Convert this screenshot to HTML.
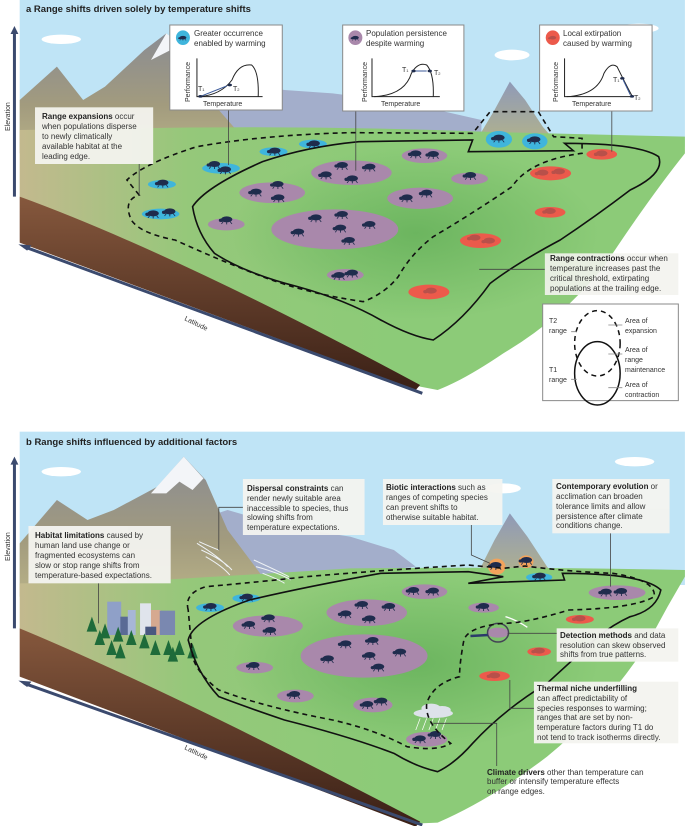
<!DOCTYPE html>
<html><head><meta charset="utf-8"><style>
html,body{margin:0;padding:0;background:#fff}
svg{display:block}
text{font-family:"Liberation Sans",sans-serif;fill:#333}
.t{font-size:8px}
.b{font-weight:bold;fill:#222}
.s{font-size:7px}
.ttl{font-size:9.5px;font-weight:bold;fill:#222}
</style></head><body>
<svg width="685" height="826" viewBox="0 0 685 826" xmlns="http://www.w3.org/2000/svg">
<defs>
<linearGradient id="gr" gradientUnits="userSpaceOnUse" x1="45" y1="0" x2="900" y2="0">
<stop offset="0" stop-color="#c3b98e"/><stop offset="0.45" stop-color="#95c87a"/><stop offset="1" stop-color="#8ccb78"/></linearGradient>
<radialGradient id="gc" cx="0.5" cy="0.5" r="0.5"><stop offset="0" stop-color="#6cb55f"/><stop offset="1" stop-color="#6cb55f" stop-opacity="0"/></radialGradient>
<linearGradient id="br" x1="0" y1="0" x2="0" y2="1"><stop offset="0" stop-color="#86583d"/><stop offset="1" stop-color="#3a2016"/></linearGradient>
<linearGradient id="mt" x1="0" y1="0" x2="0" y2="1"><stop offset="0" stop-color="#8a8c93"/><stop offset="0.6" stop-color="#a29b7e"/><stop offset="1" stop-color="#b8b288"/></linearGradient>
<linearGradient id="mr" x1="0" y1="0" x2="0" y2="1"><stop offset="0" stop-color="#8f9ab8"/><stop offset="1" stop-color="#b4b488"/></linearGradient>
<g id="bt"><ellipse cx="0" cy="0" rx="13" ry="9" fill="#1f2c4d"/><circle cx="-13" cy="3" r="5" fill="#1f2c4d"/><path d="M-8 7 l-4 7 M0 8 l0 7 M8 7 l4 7" stroke="#1f2c4d" stroke-width="2" fill="none"/></g>
<g id="btr"><ellipse cx="0" cy="0" rx="13" ry="9" fill="#b8504a"/><circle cx="-13" cy="3" r="5" fill="#b8504a"/></g>
</defs>

<!-- ================= PANEL A ================= -->
<g transform="scale(0.43764,0.33333)">
<rect x="45" y="0" width="1520" height="440" fill="#bfe4f6"/>
<g fill="#fff"><ellipse cx="140" cy="118" rx="45" ry="14"/><ellipse cx="1170" cy="165" rx="40" ry="16"/><ellipse cx="1460" cy="85" rx="45" ry="14"/></g>
<path d="M200,420 L260,270 L330,230 L430,200 L560,250 L650,270 L760,280 L880,300 L1000,330 L1100,360 L1100,440 Z" fill="#a3aecb"/>
<path d="M45,300 L130,200 L190,300 L240,260 L330,150 L380,100 L440,175 L480,300 L560,420 L45,460 Z" fill="url(#mt)"/>
<path d="M345,180 L380,100 L410,130 L390,150 Z" fill="#f3f5f8"/>
<path d="M1080,440 L1130,330 L1165,245 L1200,300 L1240,380 L1280,440 Z" fill="url(#mr)"/>
<path d="M45,390 L300,385 Q700,375 1100,395 L1565,410 L1565,460 Q1480,600 1380,800 Q1280,960 1150,1060 Q1060,1140 1000,1170 L960,1160 L45,590 Z" fill="url(#gr)"/>
<ellipse cx="950" cy="700" rx="420" ry="260" fill="url(#gc)"/>
<path d="M45,590 Q400,760 960,1155 L950,1170 L45,728 Z" fill="url(#br)"/>
<path d="M33,590 V90" stroke="#3b4a6e" stroke-width="3" vector-effect="non-scaling-stroke"/>
<path d="M33,78 l-9,24 h18 Z" fill="#3b4a6e"/>
<path d="M965,1180 L55,740" stroke="#3b4a6e" stroke-width="3" vector-effect="non-scaling-stroke"/>
<path d="M42,733 l30,3 l-10,16 Z" fill="#3b4a6e"/>
<g fill="#3fb5dc"><ellipse cx="505" cy="505" rx="43" ry="16"/><ellipse cx="625" cy="455" rx="32" ry="13"/><ellipse cx="715" cy="432" rx="32" ry="13"/><ellipse cx="370" cy="553" rx="32" ry="13"/><ellipse cx="367" cy="642" rx="43" ry="16"/><ellipse cx="1140" cy="418" rx="30" ry="25"/><ellipse cx="1222" cy="424" rx="29" ry="24"/></g>
<g fill="#a988ab"><ellipse cx="970" cy="467" rx="52" ry="22"/><ellipse cx="803" cy="518" rx="92" ry="37"/><ellipse cx="622" cy="578" rx="75" ry="31"/><ellipse cx="960" cy="595" rx="75" ry="32"/><ellipse cx="1073" cy="536" rx="42" ry="18"/><ellipse cx="517" cy="673" rx="42" ry="18"/><ellipse cx="765" cy="688" rx="145" ry="60"/><ellipse cx="789" cy="825" rx="42" ry="18"/></g>
<g fill="#ec5a4b"><ellipse cx="1375" cy="463" rx="35" ry="16"/><ellipse cx="1258" cy="520" rx="47" ry="21"/><ellipse cx="1257" cy="637" rx="35" ry="16"/><ellipse cx="1098" cy="722" rx="47" ry="22"/><ellipse cx="980" cy="876" rx="47" ry="22"/></g>
<g>
<use href="#bt" x="490" y="492"/><use href="#bt" x="515" y="508"/><use href="#bt" x="628" y="452"/><use href="#bt" x="718" y="430"/><use href="#bt" x="372" y="548"/><use href="#bt" x="350" y="640"/><use href="#bt" x="388" y="634"/><use href="#bt" x="1140" y="413"/><use href="#bt" x="1222" y="418"/>
<use href="#bt" x="950" y="460"/><use href="#bt" x="990" y="462"/><use href="#bt" x="782" y="495"/><use href="#bt" x="845" y="500"/><use href="#bt" x="745" y="523"/><use href="#bt" x="805" y="535"/>
<use href="#bt" x="635" y="552"/><use href="#bt" x="585" y="575"/><use href="#bt" x="637" y="592"/><use href="#bt" x="930" y="592"/><use href="#bt" x="975" y="578"/><use href="#bt" x="1075" y="525"/><use href="#bt" x="518" y="658"/>
<use href="#bt" x="722" y="652"/><use href="#bt" x="782" y="642"/><use href="#bt" x="778" y="683"/><use href="#bt" x="845" y="672"/><use href="#bt" x="682" y="695"/><use href="#bt" x="798" y="720"/><use href="#bt" x="775" y="825"/><use href="#bt" x="805" y="818"/>
<use href="#btr" x="1375" y="460"/><use href="#btr" x="1240" y="518"/><use href="#btr" x="1278" y="514"/><use href="#btr" x="1257" y="633"/><use href="#btr" x="1085" y="713"/><use href="#btr" x="1118" y="722"/><use href="#btr" x="985" y="872"/>
</g>
<path d="M318,585 L290,540 Q330,490 450,440 Q600,405 800,398 L1080,400 L1120,335 L1230,335 L1265,410 L1330,415 L1330,460 Q1210,480 1170,560 Q1080,640 990,710 Q940,760 910,830 Q880,880 830,905 Q700,880 600,830 Q500,780 400,720 Q320,700 300,660 Q280,600 318,585 Z" fill="none" stroke="#111" stroke-width="1.6" stroke-dasharray="5,4" vector-effect="non-scaling-stroke"/>
<path d="M440,620 Q470,560 600,485 Q700,440 820,425 L1080,420 L1070,455 L1310,452 L1290,430 Q1460,430 1505,470 Q1520,520 1440,570 Q1360,650 1280,720 Q1180,790 1120,850 Q1060,960 990,1020 Q940,1010 870,960 Q790,900 680,860 Q560,820 490,760 Q450,700 440,620 Z" fill="none" stroke="#111" stroke-width="1.6" vector-effect="non-scaling-stroke"/>
<g stroke="#444" stroke-width="0.8" fill="none">
<path d="M522,330 V495" vector-effect="non-scaling-stroke"/><path d="M813,333 V512" vector-effect="non-scaling-stroke"/><path d="M1398,333 V455" vector-effect="non-scaling-stroke"/><path d="M318,492 V585" vector-effect="non-scaling-stroke"/><path d="M1095,808 H1245" vector-effect="non-scaling-stroke"/>
</g>
<g fill="#fff" stroke="#8a8a8a" stroke-width="1">
<rect x="388" y="75" width="257" height="255" vector-effect="non-scaling-stroke"/><rect x="783" y="75" width="277" height="258" vector-effect="non-scaling-stroke"/><rect x="1233" y="75" width="257" height="258" vector-effect="non-scaling-stroke"/>
<rect x="1240" y="912" width="310" height="290" vector-effect="non-scaling-stroke"/>
</g>
<rect x="80" y="322" width="270" height="170" fill="#f3f3ee" opacity="0.95"/>
<rect x="1245" y="760" width="305" height="125" fill="#f3f3ee" opacity="0.9"/>
<ellipse cx="418" cy="113" rx="16" ry="22" fill="#3fb5dc"/><ellipse cx="812" cy="113" rx="16" ry="22" fill="#a988ab"/><ellipse cx="1263" cy="113" rx="16" ry="22" fill="#ec5a4b"/>
<g transform="translate(418,113) scale(0.6)"><use href="#bt"/></g><g transform="translate(812,113) scale(0.6)"><use href="#bt"/></g><g transform="translate(1263,113) scale(0.6)"><use href="#btr"/></g>
<g fill="none" stroke="#222" stroke-width="1">
<path d="M450,175 V290 H600" vector-effect="non-scaling-stroke"/><path d="M455,290 Q505,285 530,240 Q545,190 575,195 Q592,215 590,290" vector-effect="non-scaling-stroke"/>
<path d="M850,175 V290 H1005" vector-effect="non-scaling-stroke"/><path d="M855,290 Q925,285 940,220 Q955,185 975,195 Q992,220 990,290" vector-effect="non-scaling-stroke"/>
<path d="M1290,175 V290 H1445" vector-effect="non-scaling-stroke"/><path d="M1295,290 Q1365,285 1380,220 Q1395,185 1410,200 Q1425,240 1445,290" vector-effect="non-scaling-stroke"/>
</g>
<g stroke="#3b5a9a" stroke-width="1"><path d="M462,287 L518,258" vector-effect="non-scaling-stroke"/><path d="M950,213 H975" vector-effect="non-scaling-stroke"/><path d="M1424,240 L1440,284" vector-effect="non-scaling-stroke"/></g>
<g fill="#1f2c4d"><ellipse cx="458" cy="289" rx="5" ry="4"/><ellipse cx="525" cy="255" rx="5" ry="4"/><ellipse cx="945" cy="213" rx="5" ry="4"/><ellipse cx="982" cy="213" rx="5" ry="4"/><ellipse cx="1422" cy="235" rx="5" ry="4"/><ellipse cx="1444" cy="289" rx="5" ry="4"/></g>
<ellipse cx="1365" cy="1030" rx="52" ry="98" fill="none" stroke="#111" stroke-width="1.5" stroke-dasharray="5,4" vector-effect="non-scaling-stroke"/>
<ellipse cx="1365" cy="1120" rx="52" ry="95" fill="none" stroke="#111" stroke-width="1.5" vector-effect="non-scaling-stroke"/>
<g stroke="#888" stroke-width="0.8"><path d="M1305,995 H1318 M1305,1138 H1318 M1390,975 H1422 M1390,1062 H1422 M1390,1163 H1422" vector-effect="non-scaling-stroke"/></g>
</g>

<text x="26" y="12" class="ttl">a Range shifts driven solely by temperature shifts</text>
<text transform="translate(10,131) rotate(-90)" class="s">Elevation</text>
<text transform="translate(184,320) rotate(26)" class="s">Latitude</text>
<text class="t"><tspan x="194" y="36">Greater occurrence</tspan><tspan x="194" y="46">enabled by warming</tspan></text>
<text class="t"><tspan x="366" y="36">Population persistence</tspan><tspan x="366" y="46">despite  warming</tspan></text>
<text class="t"><tspan x="563" y="36">Local extirpation</tspan><tspan x="563" y="46">caused by warming</tspan></text>
<g class="s"><text transform="translate(190,102) rotate(-90)" class="s">Performance</text><text x="203" y="106" class="s">Temperature</text>
<text transform="translate(367,102) rotate(-90)" class="s">Performance</text><text x="381" y="106" class="s">Temperature</text>
<text transform="translate(558,102) rotate(-90)" class="s">Performance</text><text x="572" y="106" class="s">Temperature</text>
<text x="198" y="91" class="s">T<tspan font-size="4">1</tspan></text><text x="233" y="91" class="s">T<tspan font-size="4">2</tspan></text>
<text x="402" y="72" class="s">T<tspan font-size="4">1</tspan></text><text x="434" y="75" class="s">T<tspan font-size="4">2</tspan></text>
<text x="613" y="82" class="s">T<tspan font-size="4">1</tspan></text><text x="634" y="100" class="s">T<tspan font-size="4">2</tspan></text></g>
<text class="t"><tspan x="42" y="119"><tspan class="b">Range expansions</tspan> occur</tspan><tspan x="42" y="129">when populations disperse</tspan><tspan x="42" y="139">to newly climatically</tspan><tspan x="42" y="149">available habitat at the</tspan><tspan x="42" y="159">leading edge.</tspan></text>
<text class="t"><tspan x="550" y="261"><tspan class="b">Range contractions</tspan> occur when</tspan><tspan x="550" y="271">temperature increases past the</tspan><tspan x="550" y="281">critical threshold, extirpating</tspan><tspan x="550" y="291">populations at the trailing edge.</tspan></text>
<text class="s"><tspan x="549" y="323">T2</tspan><tspan x="549" y="333">range</tspan><tspan x="549" y="372">T1</tspan><tspan x="549" y="382">range</tspan>
<tspan x="625" y="323">Area of</tspan><tspan x="625" y="333">expansion</tspan><tspan x="625" y="352">Area of</tspan><tspan x="625" y="362">range</tspan><tspan x="625" y="372">maintenance</tspan><tspan x="625" y="387">Area of</tspan><tspan x="625" y="397">contraction</tspan></text>

<!-- ================= PANEL B ================= -->
<g transform="translate(0,410) scale(0.43764,0.33333)">
<rect x="45" y="65" width="1520" height="460" fill="#bfe4f6"/>
<g fill="#fff"><ellipse cx="140" cy="185" rx="45" ry="14"/><ellipse cx="1150" cy="235" rx="40" ry="15"/><ellipse cx="1450" cy="155" rx="45" ry="14"/></g>
<path d="M380,520 L450,330 L520,300 L600,330 L700,360 L800,380 L900,420 L950,470 L380,560 Z" fill="#a3aecb"/>
<path d="M45,400 L130,270 L200,330 L260,300 L360,230 L420,140 L470,210 L520,360 L600,500 L45,560 Z" fill="url(#mt)"/>
<path d="M345,250 L420,140 L465,205 L440,240 L410,215 L380,250 Z" fill="#f3f5f8"/>
<path d="M1080,520 L1130,390 L1165,310 L1205,380 L1250,470 L1280,520 Z" fill="url(#mr)"/>
<path d="M45,520 L300,515 Q500,500 800,475 Q1200,470 1565,480 L1565,500 Q1520,600 1480,700 Q1380,900 1250,1040 Q1120,1170 1000,1238 L960,1240 L45,655 Z" fill="url(#gr)"/>
<ellipse cx="950" cy="760" rx="420" ry="260" fill="url(#gc)"/>
<path d="M45,655 Q400,850 960,1235 L950,1250 L45,800 Z" fill="url(#br)"/>
<path d="M33,655 V155" stroke="#3b4a6e" stroke-width="3" vector-effect="non-scaling-stroke"/>
<path d="M33,140 l-9,24 h18 Z" fill="#3b4a6e"/>
<path d="M965,1245 L55,820" stroke="#3b4a6e" stroke-width="3" vector-effect="non-scaling-stroke"/>
<path d="M42,812 l30,3 l-10,16 Z" fill="#3b4a6e"/>
<g fill="none" stroke="#eef2f5" stroke-width="1">
<path d="M450,400 Q500,440 520,470 M460,420 Q510,450 530,480 M470,440 Q510,470 525,495 M455,395 Q480,410 500,420" vector-effect="non-scaling-stroke"/>
<path d="M580,450 Q630,480 660,500 M585,470 Q640,490 665,510 M600,490 Q640,510 650,520" vector-effect="non-scaling-stroke"/>
</g>
<g><rect x="245" y="575" width="32" height="100" fill="#8fa0c8"/><rect x="275" y="620" width="20" height="55" fill="#5a6a95"/><rect x="292" y="600" width="18" height="75" fill="#a7b6d6"/><rect x="320" y="580" width="25" height="95" fill="#e0e4ec"/><rect x="345" y="600" width="22" height="75" fill="#d6a990"/><rect x="365" y="602" width="35" height="73" fill="#7a88b0"/><rect x="332" y="650" width="25" height="25" fill="#4a5880"/></g>
<g fill="#1e6b3a">
<path d="M210,620 l-12,45 h24z M240,640 l-12,45 h24z M228,660 l-12,45 h24z M270,650 l-12,45 h24z M300,660 l-12,45 h24z M330,670 l-12,45 h24z M255,690 l-12,45 h24z M355,690 l-12,45 h24z M385,690 l-12,45 h24z M410,690 l-12,45 h24z M395,710 l-12,45 h24z M440,700 l-12,45 h24z M275,700 l-12,45 h24z"/></g>
<g fill="#3fb5dc"><ellipse cx="480" cy="593" rx="32" ry="13"/><ellipse cx="563" cy="565" rx="32" ry="13"/><ellipse cx="1232" cy="502" rx="30" ry="13"/></g>
<g fill="#f2a35c"><ellipse cx="1135" cy="470" rx="20" ry="24"/><ellipse cx="1202" cy="455" rx="17" ry="19"/></g>
<g fill="#a988ab"><ellipse cx="970" cy="545" rx="52" ry="22"/><ellipse cx="838" cy="608" rx="92" ry="40"/><ellipse cx="612" cy="648" rx="80" ry="32"/><ellipse cx="1105" cy="593" rx="35" ry="15"/><ellipse cx="1410" cy="548" rx="65" ry="22"/><ellipse cx="832" cy="738" rx="145" ry="65"/><ellipse cx="582" cy="773" rx="42" ry="17"/><ellipse cx="675" cy="858" rx="42" ry="19"/><ellipse cx="852" cy="885" rx="45" ry="22"/><ellipse cx="975" cy="988" rx="47" ry="22"/><ellipse cx="1138" cy="668" rx="25" ry="15"/></g>
<g fill="#ec5a4b"><ellipse cx="1325" cy="628" rx="32" ry="13"/><ellipse cx="1232" cy="725" rx="27" ry="13"/><ellipse cx="1130" cy="798" rx="35" ry="15"/></g>
<g>
<use href="#bt" x="482" y="588"/><use href="#bt" x="565" y="560"/><use href="#bt" x="1234" y="497"/><use href="#bt" x="1133" y="465"/><use href="#bt" x="1203" y="450"/>
<use href="#bt" x="945" y="540"/><use href="#bt" x="990" y="542"/><use href="#bt" x="828" y="582"/><use href="#bt" x="890" y="588"/><use href="#bt" x="790" y="610"/><use href="#bt" x="845" y="625"/>
<use href="#bt" x="615" y="622"/><use href="#bt" x="570" y="642"/><use href="#bt" x="618" y="660"/><use href="#bt" x="1105" y="588"/><use href="#bt" x="1385" y="545"/><use href="#bt" x="1420" y="543"/>
<use href="#bt" x="790" y="700"/><use href="#bt" x="852" y="690"/><use href="#bt" x="845" y="735"/><use href="#bt" x="915" y="725"/><use href="#bt" x="750" y="745"/><use href="#bt" x="865" y="770"/>
<use href="#bt" x="580" y="765"/><use href="#bt" x="673" y="852"/><use href="#bt" x="840" y="882"/><use href="#bt" x="872" y="872"/><use href="#bt" x="960" y="985"/><use href="#bt" x="995" y="972"/>
<use href="#btr" x="1325" y="625"/><use href="#btr" x="1232" y="722"/><use href="#btr" x="1130" y="796"/>
</g>
<ellipse cx="1138" cy="668" rx="24" ry="28" fill="none" stroke="#445" stroke-width="1.5" vector-effect="non-scaling-stroke"/>
<path d="M1115,675 L1075,678" stroke="#2b3a6a" stroke-width="2.5" vector-effect="non-scaling-stroke"/>
<path d="M1155,620 Q1180,630 1205,652" stroke="#fff" stroke-width="1.3" fill="none" vector-effect="non-scaling-stroke"/>
<g fill="#dde2ea"><ellipse cx="990" cy="910" rx="45" ry="14"/><ellipse cx="985" cy="895" rx="22" ry="14"/><ellipse cx="1010" cy="900" rx="20" ry="12"/></g>
<g stroke="#fff" stroke-width="0.7"><path d="M960,925 l-10,35 M975,925 l-10,35 M990,925 l-10,35 M1005,925 l-10,35 M1020,925 l-10,35" vector-effect="non-scaling-stroke"/></g>
<path d="M430,600 Q420,550 470,530 Q600,515 700,500 Q880,480 1070,465 L1150,475 L1200,468 Q1300,485 1400,490 Q1500,510 1495,560 Q1450,595 1300,600 Q1200,640 1150,640 Q1070,650 1060,690 Q1050,760 1050,800 Q990,820 975,880 Q970,940 1030,1000 Q1000,1025 930,1010 Q860,960 760,930 Q600,890 500,840 Q450,790 440,740 Z" fill="none" stroke="#111" stroke-width="1.6" stroke-dasharray="5,4" vector-effect="non-scaling-stroke"/>
<path d="M430,690 Q440,630 570,570 Q700,530 870,490 L1070,485 L1150,500 L1070,520 L1290,510 L1285,490 Q1470,490 1510,540 Q1500,600 1440,620 Q1390,650 1350,700 Q1300,760 1250,820 Q1150,900 1080,1000 Q1040,1060 1000,1085 Q950,1070 900,1030 Q800,980 650,930 Q560,890 500,860 Q450,790 430,690 Z" fill="none" stroke="#111" stroke-width="1.6" vector-effect="non-scaling-stroke"/>
<g fill="#f4f4f0" opacity="0.95"><rect x="65" y="348" width="325" height="172"/><rect x="555" y="207" width="278" height="168"/><rect x="875" y="207" width="273" height="138"/><rect x="1262" y="207" width="268" height="163"/><rect x="1272" y="655" width="278" height="100"/><rect x="1220" y="815" width="330" height="185"/></g>
<g fill="none" stroke="#444" stroke-width="0.8"><path d="M225,520 V640 M555,292 H500 V420 M1077,345 V435 L1120,460 M1395,370 V530 M1272,670 H1160 M1220,895 H1165 V810 M1135,1068 V940 H990" vector-effect="non-scaling-stroke"/></g>
</g>

<text x="26" y="445" class="ttl">b Range shifts influenced by additional factors</text>
<text transform="translate(10,561) rotate(-90)" class="s">Elevation</text>
<text transform="translate(184,749) rotate(26)" class="s">Latitude</text>
<text class="t"><tspan x="35" y="538"><tspan class="b">Habitat limitations</tspan> caused by</tspan><tspan x="35" y="548">human land use change or</tspan><tspan x="35" y="558">fragmented ecosystems can</tspan><tspan x="35" y="568">slow or stop range shifts from</tspan><tspan x="35" y="578">temperature-based expectations.</tspan></text>
<text class="t"><tspan x="247" y="491"><tspan class="b">Dispersal constraints</tspan> can</tspan><tspan x="247" y="501">render newly suitable area</tspan><tspan x="247" y="511">inaccessible to species, thus</tspan><tspan x="247" y="520">slowing shifts from</tspan><tspan x="247" y="530">temperature expectations.</tspan></text>
<text class="t"><tspan x="386" y="490"><tspan class="b">Biotic interactions</tspan> such as</tspan><tspan x="386" y="500">ranges of competing species</tspan><tspan x="386" y="510">can prevent shifts to</tspan><tspan x="386" y="520">otherwise suitable habitat.</tspan></text>
<text class="t"><tspan x="556" y="489"><tspan class="b">Contemporary evolution</tspan> or</tspan><tspan x="556" y="499">acclimation can broaden</tspan><tspan x="556" y="509">tolerance limits and allow</tspan><tspan x="556" y="519">persistence after climate</tspan><tspan x="556" y="528">conditions change.</tspan></text>
<text class="t"><tspan x="560" y="638"><tspan class="b">Detection methods</tspan> and data</tspan><tspan x="560" y="648">resolution can skew observed</tspan><tspan x="560" y="657">shifts from true patterns.</tspan></text>
<text class="t"><tspan x="537" y="691" class="b">Thermal niche underfilling</tspan><tspan x="537" y="701">can affect predictability of</tspan><tspan x="537" y="711">species responses to warming;</tspan><tspan x="537" y="720">ranges that are set by non-</tspan><tspan x="537" y="730">temperature factors during T1 do</tspan><tspan x="537" y="740">not tend to track isotherms directly.</tspan></text>
<text class="t"><tspan x="487" y="775"><tspan class="b">Climate drivers</tspan> other than temperature can</tspan><tspan x="487" y="784">buffer or intensify temperature effects</tspan><tspan x="487" y="794">on range edges.</tspan></text>
</svg>
</body></html>
